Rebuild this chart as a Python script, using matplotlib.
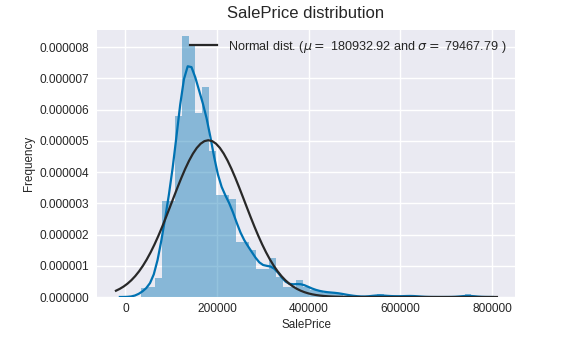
import numpy as np
import matplotlib
matplotlib.use("Agg")
import matplotlib.pyplot as plt
from matplotlib.ticker import FormatStrFormatter, FixedLocator

# SalePrice histogram: 49 equal-width bins between the min and max price
price_min = 34900
price_max = 755000
bin_counts = [6, 7, 13, 66, 66, 124, 179, 172, 126, 144,
              100, 70, 70, 67, 38, 38, 32, 19, 19, 27,
              14, 7, 7, 12, 7, 5, 4, 3, 3, 3,
              1, 1, 0, 0, 1, 2, 0, 1, 0, 1,
              1, 0, 0, 0, 0, 0, 0, 0, 2]

# fitted normal parameters
mu = 180932.92
sigma = 79467.79

x_ticks = [0, 200000, 400000, 600000, 800000]
y_ticks = [0e-6, 1e-6, 2e-6, 3e-6, 4e-6, 5e-6, 6e-6, 7e-6, 8e-6]

plt.rcParams["font.family"] = ["Liberation Sans", "DejaVu Sans"]
text_color = "#262626"

counts = np.array(bin_counts, dtype=float)
edges = np.linspace(price_min, price_max, len(bin_counts) + 1)
centers = 0.5 * (edges[:-1] + edges[1:])
width = edges[1] - edges[0]
n = counts.sum()


def binned_quantile(q):
    cum = np.concatenate([[0], np.cumsum(counts)]) / n
    return np.interp(q, cum, edges)


# KDE bandwidth: Scott's rule with the robust spread estimate
iqr = binned_quantile(0.75) - binned_quantile(0.25)
spread = min(sigma, iqr / 1.349)
bw_kde = 1.059 * spread * n ** (-1 / 5)
kernel_bw = np.sqrt(max(bw_kde ** 2 - width ** 2 / 12, 1.0))
grid_kde = np.linspace(price_min - 3 * bw_kde, price_max + 3 * bw_kde, 100)
kde = (counts[None, :] * np.exp(-0.5 * ((grid_kde[:, None] - centers[None, :]) / kernel_bw) ** 2)).sum(axis=1)
kde /= n * kernel_bw * np.sqrt(2 * np.pi)

# support for the fitted normal curve
bw_fit = n ** (-1 / 5) * sigma * np.sqrt(n / (n - 1))
grid_fit = np.linspace(price_min - 3 * bw_fit, price_max + 3 * bw_fit, 100)
normal_pdf = np.exp(-0.5 * ((grid_fit - mu) / sigma) ** 2) / (sigma * np.sqrt(2 * np.pi))

fig = plt.figure(figsize=(5.63, 3.40), dpi=100)
ax = fig.add_axes([97 / 563, 1 - 297 / 340, (515 - 97) / 563, (297 - 30) / 340])
ax.set_facecolor("#EAEAF2")
for s in ax.spines.values():
    s.set_visible(False)
ax.grid(True, color="white", linewidth=1.0)
ax.set_axisbelow(True)

blue = "#0072B2"
ax.hist(centers, bins=edges, weights=counts, density=True,
        color=blue, alpha=0.42, linewidth=0)
ax.plot(grid_kde, kde, color=blue, linewidth=1.6)
fit_line, = ax.plot(grid_fit, normal_pdf, color="#282828", linewidth=1.6)

ax.set_xlim(-62000, 850000)
ax.set_ylim(0, 8.55e-6)
ax.xaxis.set_major_locator(FixedLocator(x_ticks))
ax.yaxis.set_major_locator(FixedLocator(y_ticks))
ax.xaxis.set_major_formatter(FormatStrFormatter("%d"))
ax.yaxis.set_major_formatter(FormatStrFormatter("%.6f"))
ax.tick_params(axis="both", length=0, labelsize=8.6, labelcolor=text_color)
ax.tick_params(axis="y", pad=6)
ax.tick_params(axis="x", pad=4)

ax.set_xlabel("SalePrice", fontsize=8.4, color=text_color, labelpad=3)
ax.set_ylabel("Frequency", fontsize=8.4, color=text_color, labelpad=3)
ax.set_title("SalePrice distribution", fontsize=12, color=text_color, pad=9)

label = r"Normal dist. ($\mu=$ {:.2f} and $\sigma=$ {:.2f} )".format(mu, sigma)
leg = ax.legend([fit_line], [label], loc="upper right", frameon=False,
                fontsize=9.1, handlelength=2.1, handletextpad=0.85,
                borderaxespad=0.3)
for t in leg.get_texts():
    t.set_color(text_color)

fig.savefig("out.png", dpi=100)
